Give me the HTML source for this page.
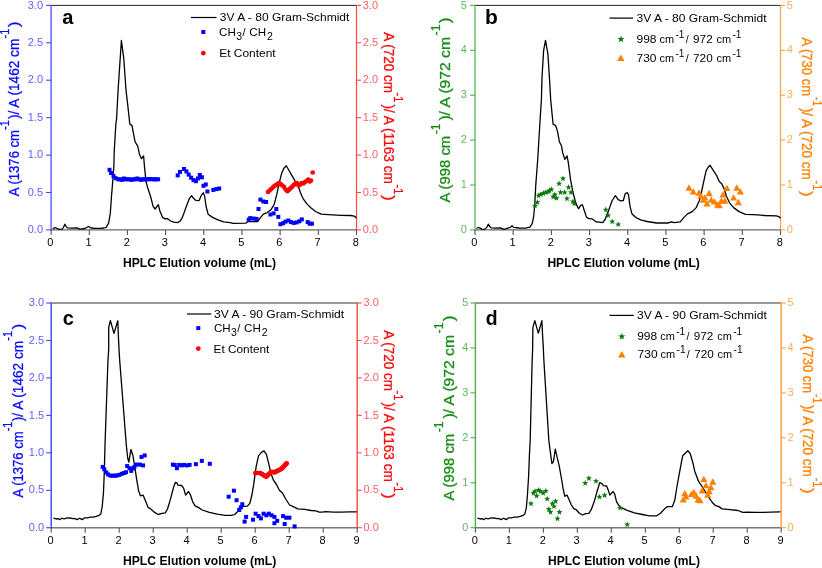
<!DOCTYPE html>
<html><head><meta charset="utf-8"><title>HPLC FTIR figure</title>
<style>html,body{margin:0;padding:0;background:#fff}svg{display:block}</style></head>
<body>
<svg width="822" height="568" viewBox="0 0 822 568" font-family="'Liberation Sans', sans-serif">
<rect width="822" height="568" fill="#fff"/>
<line x1="51.1" y1="5.4" x2="356.5" y2="5.4" stroke="#222" stroke-width="1.0"/>
<line x1="50.6" y1="229.9" x2="357.0" y2="229.9" stroke="#666" stroke-width="1.1"/>
<line x1="51.1" y1="4.9" x2="51.1" y2="230.4" stroke="#4444ff" stroke-width="1.25"/>
<line x1="356.5" y1="4.9" x2="356.5" y2="230.4" stroke="#ff4a4a" stroke-width="1.25"/>
<line x1="51.1" y1="229.9" x2="51.1" y2="234.9" stroke="#555" stroke-width="1.1"/>
<text x="50.4" y="246.20000000000002" font-size="11" fill="#000" text-anchor="middle" font-weight="normal" >0</text>
<line x1="89.3" y1="229.9" x2="89.3" y2="234.9" stroke="#555" stroke-width="1.1"/>
<text x="88.6" y="246.20000000000002" font-size="11" fill="#000" text-anchor="middle" font-weight="normal" >1</text>
<line x1="127.4" y1="229.9" x2="127.4" y2="234.9" stroke="#555" stroke-width="1.1"/>
<text x="126.7" y="246.20000000000002" font-size="11" fill="#000" text-anchor="middle" font-weight="normal" >2</text>
<line x1="165.6" y1="229.9" x2="165.6" y2="234.9" stroke="#555" stroke-width="1.1"/>
<text x="164.9" y="246.20000000000002" font-size="11" fill="#000" text-anchor="middle" font-weight="normal" >3</text>
<line x1="203.8" y1="229.9" x2="203.8" y2="234.9" stroke="#555" stroke-width="1.1"/>
<text x="203.1" y="246.20000000000002" font-size="11" fill="#000" text-anchor="middle" font-weight="normal" >4</text>
<line x1="242.0" y1="229.9" x2="242.0" y2="234.9" stroke="#555" stroke-width="1.1"/>
<text x="241.3" y="246.20000000000002" font-size="11" fill="#000" text-anchor="middle" font-weight="normal" >5</text>
<line x1="280.1" y1="229.9" x2="280.1" y2="234.9" stroke="#555" stroke-width="1.1"/>
<text x="279.4" y="246.20000000000002" font-size="11" fill="#000" text-anchor="middle" font-weight="normal" >6</text>
<line x1="318.3" y1="229.9" x2="318.3" y2="234.9" stroke="#555" stroke-width="1.1"/>
<text x="317.6" y="246.20000000000002" font-size="11" fill="#000" text-anchor="middle" font-weight="normal" >7</text>
<line x1="356.5" y1="229.9" x2="356.5" y2="234.9" stroke="#555" stroke-width="1.1"/>
<text x="355.8" y="246.20000000000002" font-size="11" fill="#000" text-anchor="middle" font-weight="normal" >8</text>
<line x1="46.1" y1="229.9" x2="51.1" y2="229.9" stroke="#4444ff" stroke-width="1.1"/>
<line x1="356.5" y1="229.9" x2="361.0" y2="229.9" stroke="#ff4a4a" stroke-width="1.1"/>
<text x="43.0" y="233.0" font-size="11" fill="#5f5fff" text-anchor="end" font-weight="normal" >0.0</text>
<text x="362.8" y="233.0" font-size="11" fill="#ff6060" text-anchor="start" font-weight="normal" >0.0</text>
<line x1="46.1" y1="192.5" x2="51.1" y2="192.5" stroke="#4444ff" stroke-width="1.1"/>
<line x1="356.5" y1="192.5" x2="361.0" y2="192.5" stroke="#ff4a4a" stroke-width="1.1"/>
<text x="43.0" y="195.6" font-size="11" fill="#5f5fff" text-anchor="end" font-weight="normal" >0.5</text>
<text x="362.8" y="195.6" font-size="11" fill="#ff6060" text-anchor="start" font-weight="normal" >0.5</text>
<line x1="46.1" y1="155.1" x2="51.1" y2="155.1" stroke="#4444ff" stroke-width="1.1"/>
<line x1="356.5" y1="155.1" x2="361.0" y2="155.1" stroke="#ff4a4a" stroke-width="1.1"/>
<text x="43.0" y="158.2" font-size="11" fill="#5f5fff" text-anchor="end" font-weight="normal" >1.0</text>
<text x="362.8" y="158.2" font-size="11" fill="#ff6060" text-anchor="start" font-weight="normal" >1.0</text>
<line x1="46.1" y1="117.7" x2="51.1" y2="117.7" stroke="#4444ff" stroke-width="1.1"/>
<line x1="356.5" y1="117.7" x2="361.0" y2="117.7" stroke="#ff4a4a" stroke-width="1.1"/>
<text x="43.0" y="120.8" font-size="11" fill="#5f5fff" text-anchor="end" font-weight="normal" >1.5</text>
<text x="362.8" y="120.8" font-size="11" fill="#ff6060" text-anchor="start" font-weight="normal" >1.5</text>
<line x1="46.1" y1="80.2" x2="51.1" y2="80.2" stroke="#4444ff" stroke-width="1.1"/>
<line x1="356.5" y1="80.2" x2="361.0" y2="80.2" stroke="#ff4a4a" stroke-width="1.1"/>
<text x="43.0" y="83.3" font-size="11" fill="#5f5fff" text-anchor="end" font-weight="normal" >2.0</text>
<text x="362.8" y="83.3" font-size="11" fill="#ff6060" text-anchor="start" font-weight="normal" >2.0</text>
<line x1="46.1" y1="42.8" x2="51.1" y2="42.8" stroke="#4444ff" stroke-width="1.1"/>
<line x1="356.5" y1="42.8" x2="361.0" y2="42.8" stroke="#ff4a4a" stroke-width="1.1"/>
<text x="43.0" y="45.9" font-size="11" fill="#5f5fff" text-anchor="end" font-weight="normal" >2.5</text>
<text x="362.8" y="45.9" font-size="11" fill="#ff6060" text-anchor="start" font-weight="normal" >2.5</text>
<line x1="46.1" y1="5.4" x2="51.1" y2="5.4" stroke="#4444ff" stroke-width="1.1"/>
<line x1="356.5" y1="5.4" x2="361.0" y2="5.4" stroke="#ff4a4a" stroke-width="1.1"/>
<text x="43.0" y="8.5" font-size="11" fill="#5f5fff" text-anchor="end" font-weight="normal" >3.0</text>
<text x="362.8" y="8.5" font-size="11" fill="#ff6060" text-anchor="start" font-weight="normal" >3.0</text>
<text x="123.0" y="266.9" font-size="12" fill="#000" text-anchor="start" font-weight="bold" textLength="153.0" lengthAdjust="spacingAndGlyphs" >HPLC Elution volume (mL)</text>
<text x="62.2" y="23.9" font-size="20" fill="#000" text-anchor="start" font-weight="bold" >a</text>
<polyline points="53.2,228.6 55.0,227.5 57.0,228.4 59.4,229.3 62.0,229.1 63.4,227.6 64.9,224.2 66.2,226.6 67.4,227.9 71.1,228.2 76.9,227.9 79.9,229.2 85.0,228.5 88.5,226.5 91.0,228.0 95.0,228.3 100.0,228.4 104.0,228.0 106.3,227.3 108.7,222.9 110.3,213.4 111.4,197.5 112.7,181.7 113.9,165.8 114.2,152.0 115.8,125.0 116.6,118.5 118.1,90.0 121.4,40.5 123.8,58.8 126.0,90.0 127.9,106.4 129.8,124.0 132.0,125.6 135.0,141.5 137.8,146.4 139.6,154.8 141.5,158.7 143.6,156.0 144.4,165.8 146.0,181.7 147.5,187.2 150.7,196.8 153.1,206.3 155.1,209.0 158.3,204.7 159.9,211.0 162.6,217.4 165.0,218.9 167.4,218.6 170.5,221.0 173.7,222.1 177.7,222.6 180.0,221.3 182.4,217.4 186.4,206.3 189.5,198.3 191.6,195.6 193.5,198.3 195.9,200.4 199.0,200.7 201.4,195.2 203.3,192.8 204.6,196.0 206.2,207.0 208.1,214.2 212.5,217.4 217.3,219.7 223.6,221.8 230.0,222.6 233.2,223.4 245.8,223.2 248.2,221.3 257.7,221.6 260.1,218.1 263.3,214.2 267.2,212.6 271.2,209.4 274.1,204.7 276.8,194.4 279.1,183.3 281.5,173.8 283.9,168.2 286.3,165.8 288.6,169.8 291.8,175.4 295.0,180.9 298.1,185.7 300.5,192.8 302.9,198.3 306.9,203.9 310.8,207.8 315.6,211.5 321.1,214.2 328.3,214.7 340.9,215.3 350.4,215.5 354.4,216.2 356.3,217.7" fill="none" stroke="#000" stroke-width="1.3" stroke-linejoin="round" stroke-linecap="round"/>
<rect x="107.5" y="167.8" width="4.0" height="4.0" fill="#0000ff"/>
<rect x="109.1" y="171.0" width="4.0" height="4.0" fill="#0000ff"/>
<rect x="111.5" y="174.1" width="4.0" height="4.0" fill="#0000ff"/>
<rect x="113.8" y="176.2" width="4.0" height="4.0" fill="#0000ff"/>
<rect x="116.2" y="177.3" width="4.0" height="4.0" fill="#0000ff"/>
<rect x="118.1" y="177.3" width="4.0" height="4.0" fill="#0000ff"/>
<rect x="120.0" y="177.8" width="4.0" height="4.0" fill="#0000ff"/>
<rect x="121.9" y="176.5" width="4.0" height="4.0" fill="#0000ff"/>
<rect x="123.8" y="177.3" width="4.0" height="4.0" fill="#0000ff"/>
<rect x="125.7" y="177.3" width="4.0" height="4.0" fill="#0000ff"/>
<rect x="127.6" y="177.3" width="4.0" height="4.0" fill="#0000ff"/>
<rect x="129.5" y="177.8" width="4.0" height="4.0" fill="#0000ff"/>
<rect x="131.4" y="177.3" width="4.0" height="4.0" fill="#0000ff"/>
<rect x="133.3" y="177.3" width="4.0" height="4.0" fill="#0000ff"/>
<rect x="135.2" y="176.5" width="4.0" height="4.0" fill="#0000ff"/>
<rect x="137.1" y="177.3" width="4.0" height="4.0" fill="#0000ff"/>
<rect x="139.0" y="177.8" width="4.0" height="4.0" fill="#0000ff"/>
<rect x="140.9" y="177.3" width="4.0" height="4.0" fill="#0000ff"/>
<rect x="142.8" y="177.3" width="4.0" height="4.0" fill="#0000ff"/>
<rect x="144.7" y="177.3" width="4.0" height="4.0" fill="#0000ff"/>
<rect x="146.6" y="177.3" width="4.0" height="4.0" fill="#0000ff"/>
<rect x="148.5" y="177.0" width="4.0" height="4.0" fill="#0000ff"/>
<rect x="150.4" y="177.3" width="4.0" height="4.0" fill="#0000ff"/>
<rect x="152.3" y="177.3" width="4.0" height="4.0" fill="#0000ff"/>
<rect x="154.2" y="177.3" width="4.0" height="4.0" fill="#0000ff"/>
<rect x="156.1" y="177.3" width="4.0" height="4.0" fill="#0000ff"/>
<rect x="175.7" y="173.4" width="4.0" height="4.0" fill="#0000ff"/>
<rect x="178.0" y="169.9" width="4.0" height="4.0" fill="#0000ff"/>
<rect x="182.0" y="167.0" width="4.0" height="4.0" fill="#0000ff"/>
<rect x="184.4" y="169.4" width="4.0" height="4.0" fill="#0000ff"/>
<rect x="186.7" y="172.6" width="4.0" height="4.0" fill="#0000ff"/>
<rect x="189.1" y="175.7" width="4.0" height="4.0" fill="#0000ff"/>
<rect x="191.5" y="178.1" width="4.0" height="4.0" fill="#0000ff"/>
<rect x="193.9" y="179.2" width="4.0" height="4.0" fill="#0000ff"/>
<rect x="195.9" y="176.5" width="4.0" height="4.0" fill="#0000ff"/>
<rect x="197.8" y="173.0" width="4.0" height="4.0" fill="#0000ff"/>
<rect x="199.9" y="175.3" width="4.0" height="4.0" fill="#0000ff"/>
<rect x="201.5" y="183.8" width="4.0" height="4.0" fill="#0000ff"/>
<rect x="203.8" y="182.5" width="4.0" height="4.0" fill="#0000ff"/>
<rect x="205.4" y="189.5" width="4.0" height="4.0" fill="#0000ff"/>
<rect x="211.3" y="187.9" width="4.0" height="4.0" fill="#0000ff"/>
<rect x="214.5" y="187.1" width="4.0" height="4.0" fill="#0000ff"/>
<rect x="217.2" y="186.5" width="4.0" height="4.0" fill="#0000ff"/>
<rect x="246.7" y="217.7" width="4.0" height="4.0" fill="#0000ff"/>
<rect x="248.3" y="216.1" width="4.0" height="4.0" fill="#0000ff"/>
<rect x="251.8" y="216.6" width="4.0" height="4.0" fill="#0000ff"/>
<rect x="254.6" y="216.9" width="4.0" height="4.0" fill="#0000ff"/>
<rect x="256.5" y="207.0" width="4.0" height="4.0" fill="#0000ff"/>
<rect x="258.4" y="197.6" width="4.0" height="4.0" fill="#0000ff"/>
<rect x="261.3" y="199.5" width="4.0" height="4.0" fill="#0000ff"/>
<rect x="264.1" y="200.0" width="4.0" height="4.0" fill="#0000ff"/>
<rect x="268.4" y="212.5" width="4.0" height="4.0" fill="#0000ff"/>
<rect x="271.6" y="211.4" width="4.0" height="4.0" fill="#0000ff"/>
<rect x="274.3" y="207.0" width="4.0" height="4.0" fill="#0000ff"/>
<rect x="276.3" y="214.9" width="4.0" height="4.0" fill="#0000ff"/>
<rect x="278.4" y="222.2" width="4.0" height="4.0" fill="#0000ff"/>
<rect x="281.1" y="221.2" width="4.0" height="4.0" fill="#0000ff"/>
<rect x="283.5" y="219.6" width="4.0" height="4.0" fill="#0000ff"/>
<rect x="286.3" y="218.5" width="4.0" height="4.0" fill="#0000ff"/>
<rect x="289.0" y="220.1" width="4.0" height="4.0" fill="#0000ff"/>
<rect x="291.7" y="220.9" width="4.0" height="4.0" fill="#0000ff"/>
<rect x="294.6" y="220.4" width="4.0" height="4.0" fill="#0000ff"/>
<rect x="297.3" y="219.3" width="4.0" height="4.0" fill="#0000ff"/>
<rect x="299.8" y="217.4" width="4.0" height="4.0" fill="#0000ff"/>
<rect x="305.7" y="220.1" width="4.0" height="4.0" fill="#0000ff"/>
<rect x="307.7" y="221.7" width="4.0" height="4.0" fill="#0000ff"/>
<rect x="309.9" y="221.7" width="4.0" height="4.0" fill="#0000ff"/>
<circle cx="268.0" cy="192.0" r="2.35" fill="#ff0000"/>
<circle cx="269.6" cy="190.5" r="2.35" fill="#ff0000"/>
<circle cx="271.2" cy="189.0" r="2.35" fill="#ff0000"/>
<circle cx="272.8" cy="187.5" r="2.35" fill="#ff0000"/>
<circle cx="274.4" cy="186.0" r="2.35" fill="#ff0000"/>
<circle cx="276.0" cy="185.0" r="2.35" fill="#ff0000"/>
<circle cx="277.5" cy="184.0" r="2.35" fill="#ff0000"/>
<circle cx="279.0" cy="183.0" r="2.35" fill="#ff0000"/>
<circle cx="280.7" cy="184.2" r="2.35" fill="#ff0000"/>
<circle cx="282.3" cy="185.5" r="2.35" fill="#ff0000"/>
<circle cx="284.0" cy="186.8" r="2.35" fill="#ff0000"/>
<circle cx="285.6" cy="189.5" r="2.35" fill="#ff0000"/>
<circle cx="287.4" cy="191.2" r="2.35" fill="#ff0000"/>
<circle cx="289.0" cy="189.7" r="2.35" fill="#ff0000"/>
<circle cx="290.6" cy="188.2" r="2.35" fill="#ff0000"/>
<circle cx="292.2" cy="186.7" r="2.35" fill="#ff0000"/>
<circle cx="293.8" cy="185.0" r="2.35" fill="#ff0000"/>
<circle cx="295.4" cy="183.6" r="2.35" fill="#ff0000"/>
<circle cx="297.0" cy="183.2" r="2.35" fill="#ff0000"/>
<circle cx="298.6" cy="185.5" r="2.35" fill="#ff0000"/>
<circle cx="300.2" cy="184.5" r="2.35" fill="#ff0000"/>
<circle cx="301.8" cy="183.0" r="2.35" fill="#ff0000"/>
<circle cx="303.4" cy="183.5" r="2.35" fill="#ff0000"/>
<circle cx="305.0" cy="182.0" r="2.35" fill="#ff0000"/>
<circle cx="306.6" cy="181.0" r="2.35" fill="#ff0000"/>
<circle cx="308.2" cy="179.5" r="2.35" fill="#ff0000"/>
<circle cx="309.8" cy="181.5" r="2.35" fill="#ff0000"/>
<circle cx="311.0" cy="180.5" r="2.35" fill="#ff0000"/>
<circle cx="312.7" cy="172.5" r="2.35" fill="#ff0000"/>
<line x1="191" y1="17.5" x2="216.5" y2="17.5" stroke="#000" stroke-width="1.2"/>
<text x="219.8" y="21.3" font-size="10.5" fill="#000" text-anchor="start" font-weight="normal" textLength="129.6" lengthAdjust="spacingAndGlyphs" >3V A - 80 Gram-Schmidt</text>
<rect x="201.3" y="30.0" width="4.0" height="4.0" fill="#0000ff"/>
<text y="35.6" font-size="11" fill="#000"><tspan x="219.1" font-size="11.6">CH</tspan><tspan x="236.2" dy="4.3" font-size="10.5">3</tspan><tspan x="242.5" dy="-4.3">/</tspan><tspan x="249.3" font-size="11.6">CH</tspan><tspan x="267.0" dy="4.3" font-size="10.5">2</tspan></text>
<circle cx="203.3" cy="53.2" r="2.35" fill="#ff0000"/>
<text x="219.2" y="57.1" font-size="10.5" fill="#000" text-anchor="start" font-weight="normal" textLength="56.5" lengthAdjust="spacingAndGlyphs" >Et Content</text>
<g transform="translate(383.9,32.3) rotate(90)" fill="#ff0808" stroke="#ff0808" stroke-width="0.28">
<text x="0" y="0" font-size="14.5" textLength="60.6" lengthAdjust="spacingAndGlyphs">A (720 cm</text>
<text x="60.2" y="-9.7" font-size="13" textLength="9.8" lengthAdjust="spacingAndGlyphs">-1</text>
<text x="72.2" y="0" font-size="14.5" textLength="79.4" lengthAdjust="spacingAndGlyphs">)/ A (1163 cm</text>
<text x="152.2" y="-9.7" font-size="13" textLength="9.8" lengthAdjust="spacingAndGlyphs">-1</text>
<text x="162.8" y="0" font-size="14.5" textLength="5.8" lengthAdjust="spacingAndGlyphs">)</text>
</g>
<g transform="translate(19.2,196.2) rotate(-90)" fill="#0808ff" stroke="#0808ff" stroke-width="0.28">
<text x="0" y="0" font-size="14.5" textLength="66.2" lengthAdjust="spacingAndGlyphs">A (1376 cm</text>
<text x="66.2" y="-10.5" font-size="13" textLength="9.8" lengthAdjust="spacingAndGlyphs">-1</text>
<text x="77.2" y="0" font-size="14.5" textLength="80.3" lengthAdjust="spacingAndGlyphs">)/ A (1462 cm</text>
<text x="157.8" y="-10.5" font-size="13" textLength="9.8" lengthAdjust="spacingAndGlyphs">-1</text>
<text x="169.0" y="0" font-size="14.5" textLength="5.8" lengthAdjust="spacingAndGlyphs">)</text>
</g>
<line x1="475.0" y1="5.4" x2="780.5" y2="5.4" stroke="#222" stroke-width="1.0"/>
<line x1="474.5" y1="229.9" x2="781.0" y2="229.9" stroke="#666" stroke-width="1.1"/>
<line x1="475.0" y1="4.9" x2="475.0" y2="230.4" stroke="#4fb04f" stroke-width="1.25"/>
<line x1="780.5" y1="4.9" x2="780.5" y2="230.4" stroke="#ffa040" stroke-width="1.25"/>
<line x1="475.0" y1="229.9" x2="475.0" y2="234.9" stroke="#555" stroke-width="1.1"/>
<text x="474.3" y="246.20000000000002" font-size="11" fill="#000" text-anchor="middle" font-weight="normal" >0</text>
<line x1="513.2" y1="229.9" x2="513.2" y2="234.9" stroke="#555" stroke-width="1.1"/>
<text x="512.5" y="246.20000000000002" font-size="11" fill="#000" text-anchor="middle" font-weight="normal" >1</text>
<line x1="551.4" y1="229.9" x2="551.4" y2="234.9" stroke="#555" stroke-width="1.1"/>
<text x="550.7" y="246.20000000000002" font-size="11" fill="#000" text-anchor="middle" font-weight="normal" >2</text>
<line x1="589.6" y1="229.9" x2="589.6" y2="234.9" stroke="#555" stroke-width="1.1"/>
<text x="588.9" y="246.20000000000002" font-size="11" fill="#000" text-anchor="middle" font-weight="normal" >3</text>
<line x1="627.8" y1="229.9" x2="627.8" y2="234.9" stroke="#555" stroke-width="1.1"/>
<text x="627.0" y="246.20000000000002" font-size="11" fill="#000" text-anchor="middle" font-weight="normal" >4</text>
<line x1="665.9" y1="229.9" x2="665.9" y2="234.9" stroke="#555" stroke-width="1.1"/>
<text x="665.2" y="246.20000000000002" font-size="11" fill="#000" text-anchor="middle" font-weight="normal" >5</text>
<line x1="704.1" y1="229.9" x2="704.1" y2="234.9" stroke="#555" stroke-width="1.1"/>
<text x="703.4" y="246.20000000000002" font-size="11" fill="#000" text-anchor="middle" font-weight="normal" >6</text>
<line x1="742.3" y1="229.9" x2="742.3" y2="234.9" stroke="#555" stroke-width="1.1"/>
<text x="741.6" y="246.20000000000002" font-size="11" fill="#000" text-anchor="middle" font-weight="normal" >7</text>
<line x1="780.5" y1="229.9" x2="780.5" y2="234.9" stroke="#555" stroke-width="1.1"/>
<text x="779.8" y="246.20000000000002" font-size="11" fill="#000" text-anchor="middle" font-weight="normal" >8</text>
<line x1="470.0" y1="229.9" x2="475.0" y2="229.9" stroke="#4fb04f" stroke-width="1.1"/>
<line x1="780.5" y1="229.9" x2="785.0" y2="229.9" stroke="#ffa040" stroke-width="1.1"/>
<text x="466.9" y="233.0" font-size="11" fill="#5eb85e" text-anchor="end" font-weight="normal" >0</text>
<text x="786.8" y="233.0" font-size="11" fill="#ffac58" text-anchor="start" font-weight="normal" >0</text>
<line x1="470.0" y1="185.0" x2="475.0" y2="185.0" stroke="#4fb04f" stroke-width="1.1"/>
<line x1="780.5" y1="185.0" x2="785.0" y2="185.0" stroke="#ffa040" stroke-width="1.1"/>
<text x="466.9" y="188.1" font-size="11" fill="#5eb85e" text-anchor="end" font-weight="normal" >1</text>
<text x="786.8" y="188.1" font-size="11" fill="#ffac58" text-anchor="start" font-weight="normal" >1</text>
<line x1="470.0" y1="140.1" x2="475.0" y2="140.1" stroke="#4fb04f" stroke-width="1.1"/>
<line x1="780.5" y1="140.1" x2="785.0" y2="140.1" stroke="#ffa040" stroke-width="1.1"/>
<text x="466.9" y="143.2" font-size="11" fill="#5eb85e" text-anchor="end" font-weight="normal" >2</text>
<text x="786.8" y="143.2" font-size="11" fill="#ffac58" text-anchor="start" font-weight="normal" >2</text>
<line x1="470.0" y1="95.2" x2="475.0" y2="95.2" stroke="#4fb04f" stroke-width="1.1"/>
<line x1="780.5" y1="95.2" x2="785.0" y2="95.2" stroke="#ffa040" stroke-width="1.1"/>
<text x="466.9" y="98.3" font-size="11" fill="#5eb85e" text-anchor="end" font-weight="normal" >3</text>
<text x="786.8" y="98.3" font-size="11" fill="#ffac58" text-anchor="start" font-weight="normal" >3</text>
<line x1="470.0" y1="50.3" x2="475.0" y2="50.3" stroke="#4fb04f" stroke-width="1.1"/>
<line x1="780.5" y1="50.3" x2="785.0" y2="50.3" stroke="#ffa040" stroke-width="1.1"/>
<text x="466.9" y="53.4" font-size="11" fill="#5eb85e" text-anchor="end" font-weight="normal" >4</text>
<text x="786.8" y="53.4" font-size="11" fill="#ffac58" text-anchor="start" font-weight="normal" >4</text>
<line x1="470.0" y1="5.4" x2="475.0" y2="5.4" stroke="#4fb04f" stroke-width="1.1"/>
<line x1="780.5" y1="5.4" x2="785.0" y2="5.4" stroke="#ffa040" stroke-width="1.1"/>
<text x="466.9" y="8.5" font-size="11" fill="#5eb85e" text-anchor="end" font-weight="normal" >5</text>
<text x="786.8" y="8.5" font-size="11" fill="#ffac58" text-anchor="start" font-weight="normal" >5</text>
<text x="547.4" y="266.9" font-size="12" fill="#000" text-anchor="start" font-weight="bold" textLength="152.5" lengthAdjust="spacingAndGlyphs" >HPLC Elution volume (mL)</text>
<text x="485.1" y="23.9" font-size="21" fill="#000" text-anchor="start" font-weight="bold" >b</text>
<polyline points="477.0,228.2 478.8,227.5 480.5,228.4 482.1,229.3 485.0,229.1 486.8,227.4 488.3,224.2 489.8,226.6 491.2,227.9 495.4,228.2 500.4,227.9 504.0,229.3 507.7,228.2 510.4,227.4 512.0,225.8 513.6,227.4 519.1,228.0 525.5,228.2 529.9,227.1 532.3,223.4 533.7,216.3 534.7,205.2 535.8,184.6 537.4,164.0 538.0,155.0 540.1,119.5 541.4,100.0 542.0,77.5 543.6,50.6 545.5,40.3 547.9,53.8 549.9,85.5 550.7,100.0 553.1,124.3 555.5,125.3 557.5,131.1 559.4,141.8 561.4,145.7 562.7,152.9 564.8,159.3 567.0,155.8 568.3,162.4 570.6,179.9 573.0,192.5 575.9,203.6 578.6,208.7 580.9,205.2 582.5,204.9 584.1,210.0 586.5,217.1 588.9,218.7 592.4,218.9 596.3,221.9 599.5,222.2 602.7,222.7 605.1,219.5 608.2,211.6 612.2,200.5 615.4,195.7 618.2,199.7 620.9,200.8 623.3,200.5 625.2,193.8 627.2,192.5 628.5,194.9 630.1,206.8 632.0,213.9 636.0,217.6 640.7,219.8 647.1,221.5 656.6,223.0 667.7,223.0 671.6,221.9 674.0,222.7 680.3,221.9 683.5,217.9 687.5,213.9 692.2,211.6 696.2,207.6 699.4,200.5 701.7,191.0 704.1,179.9 706.0,171.1 708.1,167.2 710.1,165.3 712.8,169.6 716.8,175.9 719.3,181.5 721.7,183.8 724.1,188.6 726.5,196.5 729.6,202.8 733.6,207.6 739.1,211.6 745.5,214.3 753.4,214.7 764.5,215.5 776.4,215.8 778.7,216.6 780.3,217.9" fill="none" stroke="#000" stroke-width="1.3" stroke-linejoin="round" stroke-linecap="round"/>
<polygon points="535.00,202.80 535.79,204.91 538.04,205.01 536.28,206.42 536.88,208.59 535.00,207.34 533.12,208.59 533.72,206.42 531.96,205.01 534.21,204.91" fill="#0a7a0a"/>
<polygon points="537.40,199.10 538.19,201.21 540.44,201.31 538.68,202.72 539.28,204.89 537.40,203.64 535.52,204.89 536.12,202.72 534.36,201.31 536.61,201.21" fill="#0a7a0a"/>
<polygon points="538.60,192.50 539.39,194.61 541.64,194.71 539.88,196.12 540.48,198.29 538.60,197.04 536.72,198.29 537.32,196.12 535.56,194.71 537.81,194.61" fill="#0a7a0a"/>
<polygon points="540.80,191.20 541.59,193.31 543.84,193.41 542.08,194.82 542.68,196.99 540.80,195.74 538.92,196.99 539.52,194.82 537.76,193.41 540.01,193.31" fill="#0a7a0a"/>
<polygon points="543.30,190.10 544.09,192.21 546.34,192.31 544.58,193.72 545.18,195.89 543.30,194.64 541.42,195.89 542.02,193.72 540.26,192.31 542.51,192.21" fill="#0a7a0a"/>
<polygon points="545.80,189.10 546.59,191.21 548.84,191.31 547.08,192.72 547.68,194.89 545.80,193.64 543.92,194.89 544.52,192.72 542.76,191.31 545.01,191.21" fill="#0a7a0a"/>
<polygon points="548.10,188.70 548.89,190.81 551.14,190.91 549.38,192.32 549.98,194.49 548.10,193.24 546.22,194.49 546.82,192.32 545.06,190.91 547.31,190.81" fill="#0a7a0a"/>
<polygon points="549.50,187.40 550.29,189.51 552.54,189.61 550.78,191.02 551.38,193.19 549.50,191.94 547.62,193.19 548.22,191.02 546.46,189.61 548.71,189.51" fill="#0a7a0a"/>
<polygon points="551.30,186.20 552.09,188.31 554.34,188.41 552.58,189.82 553.18,191.99 551.30,190.74 549.42,191.99 550.02,189.82 548.26,188.41 550.51,188.31" fill="#0a7a0a"/>
<polygon points="553.20,193.60 553.99,195.71 556.24,195.81 554.48,197.22 555.08,199.39 553.20,198.14 551.32,199.39 551.92,197.22 550.16,195.81 552.41,195.71" fill="#0a7a0a"/>
<polygon points="554.80,191.50 555.59,193.61 557.84,193.71 556.08,195.12 556.68,197.29 554.80,196.04 552.92,197.29 553.52,195.12 551.76,193.71 554.01,193.61" fill="#0a7a0a"/>
<polygon points="556.40,194.90 557.19,197.01 559.44,197.11 557.68,198.52 558.28,200.69 556.40,199.44 554.52,200.69 555.12,198.52 553.36,197.11 555.61,197.01" fill="#0a7a0a"/>
<polygon points="559.10,180.50 559.89,182.61 562.14,182.71 560.38,184.12 560.98,186.29 559.10,185.04 557.22,186.29 557.82,184.12 556.06,182.71 558.31,182.61" fill="#0a7a0a"/>
<polygon points="560.60,189.20 561.39,191.31 563.64,191.41 561.88,192.82 562.48,194.99 560.60,193.74 558.72,194.99 559.32,192.82 557.56,191.41 559.81,191.31" fill="#0a7a0a"/>
<polygon points="563.00,175.40 563.79,177.51 566.04,177.61 564.28,179.02 564.88,181.19 563.00,179.94 561.12,181.19 561.72,179.02 559.96,177.61 562.21,177.51" fill="#0a7a0a"/>
<polygon points="564.60,189.30 565.39,191.41 567.64,191.51 565.88,192.92 566.48,195.09 564.60,193.84 562.72,195.09 563.32,192.92 561.56,191.51 563.81,191.41" fill="#0a7a0a"/>
<polygon points="567.00,195.50 567.79,197.61 570.04,197.71 568.28,199.12 568.88,201.29 567.00,200.04 565.12,201.29 565.72,199.12 563.96,197.71 566.21,197.61" fill="#0a7a0a"/>
<polygon points="568.60,184.10 569.39,186.21 571.64,186.31 569.88,187.72 570.48,189.89 568.60,188.64 566.72,189.89 567.32,187.72 565.56,186.31 567.81,186.21" fill="#0a7a0a"/>
<polygon points="571.00,189.20 571.79,191.31 574.04,191.41 572.28,192.82 572.88,194.99 571.00,193.74 569.12,194.99 569.72,192.82 567.96,191.41 570.21,191.31" fill="#0a7a0a"/>
<polygon points="573.00,198.40 573.79,200.51 576.04,200.61 574.28,202.02 574.88,204.19 573.00,202.94 571.12,204.19 571.72,202.02 569.96,200.61 572.21,200.51" fill="#0a7a0a"/>
<polygon points="574.30,200.40 575.09,202.51 577.34,202.61 575.58,204.02 576.18,206.19 574.30,204.94 572.42,206.19 573.02,204.02 571.26,202.61 573.51,202.51" fill="#0a7a0a"/>
<polygon points="605.80,206.60 606.59,208.71 608.84,208.81 607.08,210.22 607.68,212.39 605.80,211.14 603.92,212.39 604.52,210.22 602.76,208.81 605.01,208.71" fill="#0a7a0a"/>
<polygon points="608.20,212.30 608.99,214.41 611.24,214.51 609.48,215.92 610.08,218.09 608.20,216.84 606.32,218.09 606.92,215.92 605.16,214.51 607.41,214.41" fill="#0a7a0a"/>
<polygon points="612.20,218.50 612.99,220.61 615.24,220.71 613.48,222.12 614.08,224.29 612.20,223.04 610.32,224.29 610.92,222.12 609.16,220.71 611.41,220.61" fill="#0a7a0a"/>
<polygon points="618.20,221.30 618.99,223.41 621.24,223.51 619.48,224.92 620.08,227.09 618.20,225.84 616.32,227.09 616.92,224.92 615.16,223.51 617.41,223.41" fill="#0a7a0a"/>
<polygon points="685.40,190.67 692.60,190.67 689.00,184.33" fill="#ff8000"/>
<polygon points="689.70,194.47 696.90,194.47 693.30,188.13" fill="#ff8000"/>
<polygon points="695.40,195.67 702.60,195.67 699.00,189.33" fill="#ff8000"/>
<polygon points="697.30,198.87 704.50,198.87 700.90,192.53" fill="#ff8000"/>
<polygon points="699.70,202.87 706.90,202.87 703.30,196.53" fill="#ff8000"/>
<polygon points="701.30,200.47 708.50,200.47 704.90,194.13" fill="#ff8000"/>
<polygon points="703.40,206.47 710.60,206.47 707.00,200.13" fill="#ff8000"/>
<polygon points="705.60,196.17 712.80,196.17 709.20,189.83" fill="#ff8000"/>
<polygon points="707.60,202.87 714.80,202.87 711.20,196.53" fill="#ff8000"/>
<polygon points="710.80,204.47 718.00,204.47 714.40,198.13" fill="#ff8000"/>
<polygon points="714.00,207.57 721.20,207.57 717.60,201.23" fill="#ff8000"/>
<polygon points="715.70,208.37 722.90,208.37 719.30,202.03" fill="#ff8000"/>
<polygon points="717.80,203.67 725.00,203.67 721.40,197.33" fill="#ff8000"/>
<polygon points="719.40,197.57 726.60,197.57 723.00,191.23" fill="#ff8000"/>
<polygon points="721.30,203.67 728.50,203.67 724.90,197.33" fill="#ff8000"/>
<polygon points="723.30,190.97 730.50,190.97 726.90,184.63" fill="#ff8000"/>
<polygon points="730.00,200.47 737.20,200.47 733.60,194.13" fill="#ff8000"/>
<polygon points="733.20,190.67 740.40,190.67 736.80,184.33" fill="#ff8000"/>
<polygon points="734.70,205.17 741.90,205.17 738.30,198.83" fill="#ff8000"/>
<polygon points="736.80,194.47 744.00,194.47 740.40,188.13" fill="#ff8000"/>
<line x1="609.5" y1="18.1" x2="633.2" y2="18.1" stroke="#000" stroke-width="1.2"/>
<text x="636.5" y="21.6" font-size="10.5" fill="#000" text-anchor="start" font-weight="normal" textLength="130" lengthAdjust="spacingAndGlyphs" >3V A - 80 Gram-Schmidt</text>
<polygon points="621.00,35.60 621.91,38.04 624.52,38.16 622.48,39.78 623.17,42.29 621.00,40.85 618.83,42.29 619.52,39.78 617.48,38.16 620.09,38.04" fill="#0a7a0a"/>
<polygon points="617.10,61.06 624.50,61.06 620.80,54.54" fill="#ff8000"/>
<text y="42.7" font-size="10.5" fill="#000"><tspan x="636.5" textLength="20.0" lengthAdjust="spacingAndGlyphs">998</tspan><tspan x="659.5" textLength="14.6" lengthAdjust="spacingAndGlyphs">cm</tspan><tspan x="675.5" dy="-5.1" font-size="10.5" textLength="9.0" lengthAdjust="spacingAndGlyphs">-1</tspan><tspan x="685.7" dy="5.1">/</tspan><tspan x="693.1" textLength="19.6" lengthAdjust="spacingAndGlyphs">972</tspan><tspan x="716.5" textLength="14.6" lengthAdjust="spacingAndGlyphs">cm</tspan><tspan x="732.5" dy="-5.1" font-size="10.5" textLength="9.0" lengthAdjust="spacingAndGlyphs">-1</tspan></text>
<text y="61.6" font-size="10.5" fill="#000"><tspan x="636.5" textLength="20.0" lengthAdjust="spacingAndGlyphs">730</tspan><tspan x="659.5" textLength="14.6" lengthAdjust="spacingAndGlyphs">cm</tspan><tspan x="675.5" dy="-5.1" font-size="10.5" textLength="9.0" lengthAdjust="spacingAndGlyphs">-1</tspan><tspan x="685.7" dy="5.1">/</tspan><tspan x="693.1" textLength="19.6" lengthAdjust="spacingAndGlyphs">720</tspan><tspan x="716.5" textLength="14.6" lengthAdjust="spacingAndGlyphs">cm</tspan><tspan x="732.5" dy="-5.1" font-size="10.5" textLength="9.0" lengthAdjust="spacingAndGlyphs">-1</tspan></text>
<g transform="translate(802,37.4) rotate(90)" fill="#ff8000" stroke="#ff8000" stroke-width="0.28">
<text x="0" y="0" font-size="14.5" textLength="58.6" lengthAdjust="spacingAndGlyphs">A (730 cm</text>
<text x="59.6" y="-10.5" font-size="13" textLength="9.2" lengthAdjust="spacingAndGlyphs">-1</text>
<text x="70.5" y="0" font-size="14.5" textLength="71.7" lengthAdjust="spacingAndGlyphs">)/ A (720 cm</text>
<text x="143.2" y="-10.5" font-size="13" textLength="9.8" lengthAdjust="spacingAndGlyphs">-1</text>
<text x="153.6" y="0" font-size="14.5" textLength="5.6" lengthAdjust="spacingAndGlyphs">)</text>
</g>
<g transform="translate(450,202.6) rotate(-90)" fill="#158c15" stroke="#158c15" stroke-width="0.28">
<text x="0" y="0" font-size="14.5" textLength="66.8" lengthAdjust="spacingAndGlyphs">A (998 cm</text>
<text x="68.4" y="-10.3" font-size="13" textLength="10.8" lengthAdjust="spacingAndGlyphs">-1</text>
<text x="82.0" y="0" font-size="14.5" textLength="83.6" lengthAdjust="spacingAndGlyphs">)/ A (972 cm</text>
<text x="167.2" y="-10.3" font-size="13" textLength="11.0" lengthAdjust="spacingAndGlyphs">-1</text>
<text x="179.3" y="0" font-size="14.5" textLength="6.0" lengthAdjust="spacingAndGlyphs">)</text>
</g>
<line x1="51.2" y1="303.0" x2="357.2" y2="303.0" stroke="#777" stroke-width="1.3"/>
<line x1="50.7" y1="527.7" x2="357.7" y2="527.7" stroke="#777" stroke-width="1.5"/>
<line x1="51.2" y1="302.5" x2="51.2" y2="528.2" stroke="#4444ff" stroke-width="1.45"/>
<line x1="357.2" y1="302.5" x2="357.2" y2="528.2" stroke="#ff4a4a" stroke-width="1.45"/>
<line x1="51.2" y1="527.7" x2="51.2" y2="532.7" stroke="#555" stroke-width="1.1"/>
<text x="50.5" y="544.0" font-size="11" fill="#000" text-anchor="middle" font-weight="normal" >0</text>
<line x1="85.2" y1="527.7" x2="85.2" y2="532.7" stroke="#555" stroke-width="1.1"/>
<text x="84.5" y="544.0" font-size="11" fill="#000" text-anchor="middle" font-weight="normal" >1</text>
<line x1="119.2" y1="527.7" x2="119.2" y2="532.7" stroke="#555" stroke-width="1.1"/>
<text x="118.5" y="544.0" font-size="11" fill="#000" text-anchor="middle" font-weight="normal" >2</text>
<line x1="153.2" y1="527.7" x2="153.2" y2="532.7" stroke="#555" stroke-width="1.1"/>
<text x="152.5" y="544.0" font-size="11" fill="#000" text-anchor="middle" font-weight="normal" >3</text>
<line x1="187.2" y1="527.7" x2="187.2" y2="532.7" stroke="#555" stroke-width="1.1"/>
<text x="186.5" y="544.0" font-size="11" fill="#000" text-anchor="middle" font-weight="normal" >4</text>
<line x1="221.2" y1="527.7" x2="221.2" y2="532.7" stroke="#555" stroke-width="1.1"/>
<text x="220.5" y="544.0" font-size="11" fill="#000" text-anchor="middle" font-weight="normal" >5</text>
<line x1="255.2" y1="527.7" x2="255.2" y2="532.7" stroke="#555" stroke-width="1.1"/>
<text x="254.5" y="544.0" font-size="11" fill="#000" text-anchor="middle" font-weight="normal" >6</text>
<line x1="289.2" y1="527.7" x2="289.2" y2="532.7" stroke="#555" stroke-width="1.1"/>
<text x="288.5" y="544.0" font-size="11" fill="#000" text-anchor="middle" font-weight="normal" >7</text>
<line x1="323.2" y1="527.7" x2="323.2" y2="532.7" stroke="#555" stroke-width="1.1"/>
<text x="322.5" y="544.0" font-size="11" fill="#000" text-anchor="middle" font-weight="normal" >8</text>
<line x1="357.2" y1="527.7" x2="357.2" y2="532.7" stroke="#555" stroke-width="1.1"/>
<text x="356.5" y="544.0" font-size="11" fill="#000" text-anchor="middle" font-weight="normal" >9</text>
<line x1="46.2" y1="527.7" x2="51.2" y2="527.7" stroke="#4444ff" stroke-width="1.1"/>
<line x1="357.2" y1="527.7" x2="361.7" y2="527.7" stroke="#ff4a4a" stroke-width="1.1"/>
<text x="44.1" y="530.8" font-size="11" fill="#5f5fff" text-anchor="end" font-weight="normal" >0.0</text>
<text x="363.5" y="530.8" font-size="11" fill="#ff6060" text-anchor="start" font-weight="normal" >0.0</text>
<line x1="46.2" y1="490.3" x2="51.2" y2="490.3" stroke="#4444ff" stroke-width="1.1"/>
<line x1="357.2" y1="490.3" x2="361.7" y2="490.3" stroke="#ff4a4a" stroke-width="1.1"/>
<text x="44.1" y="493.4" font-size="11" fill="#5f5fff" text-anchor="end" font-weight="normal" >0.5</text>
<text x="363.5" y="493.4" font-size="11" fill="#ff6060" text-anchor="start" font-weight="normal" >0.5</text>
<line x1="46.2" y1="452.8" x2="51.2" y2="452.8" stroke="#4444ff" stroke-width="1.1"/>
<line x1="357.2" y1="452.8" x2="361.7" y2="452.8" stroke="#ff4a4a" stroke-width="1.1"/>
<text x="44.1" y="455.9" font-size="11" fill="#5f5fff" text-anchor="end" font-weight="normal" >1.0</text>
<text x="363.5" y="455.9" font-size="11" fill="#ff6060" text-anchor="start" font-weight="normal" >1.0</text>
<line x1="46.2" y1="415.4" x2="51.2" y2="415.4" stroke="#4444ff" stroke-width="1.1"/>
<line x1="357.2" y1="415.4" x2="361.7" y2="415.4" stroke="#ff4a4a" stroke-width="1.1"/>
<text x="44.1" y="418.5" font-size="11" fill="#5f5fff" text-anchor="end" font-weight="normal" >1.5</text>
<text x="363.5" y="418.5" font-size="11" fill="#ff6060" text-anchor="start" font-weight="normal" >1.5</text>
<line x1="46.2" y1="377.9" x2="51.2" y2="377.9" stroke="#4444ff" stroke-width="1.1"/>
<line x1="357.2" y1="377.9" x2="361.7" y2="377.9" stroke="#ff4a4a" stroke-width="1.1"/>
<text x="44.1" y="381.0" font-size="11" fill="#5f5fff" text-anchor="end" font-weight="normal" >2.0</text>
<text x="363.5" y="381.0" font-size="11" fill="#ff6060" text-anchor="start" font-weight="normal" >2.0</text>
<line x1="46.2" y1="340.5" x2="51.2" y2="340.5" stroke="#4444ff" stroke-width="1.1"/>
<line x1="357.2" y1="340.5" x2="361.7" y2="340.5" stroke="#ff4a4a" stroke-width="1.1"/>
<text x="44.1" y="343.6" font-size="11" fill="#5f5fff" text-anchor="end" font-weight="normal" >2.5</text>
<text x="363.5" y="343.6" font-size="11" fill="#ff6060" text-anchor="start" font-weight="normal" >2.5</text>
<line x1="46.2" y1="303.0" x2="51.2" y2="303.0" stroke="#4444ff" stroke-width="1.1"/>
<line x1="357.2" y1="303.0" x2="361.7" y2="303.0" stroke="#ff4a4a" stroke-width="1.1"/>
<text x="44.1" y="306.1" font-size="11" fill="#5f5fff" text-anchor="end" font-weight="normal" >3.0</text>
<text x="363.5" y="306.1" font-size="11" fill="#ff6060" text-anchor="start" font-weight="normal" >3.0</text>
<text x="123.0" y="564.7" font-size="12" fill="#000" text-anchor="start" font-weight="bold" textLength="153.2" lengthAdjust="spacingAndGlyphs" >HPLC Elution volume (mL)</text>
<text x="62.8" y="324.6" font-size="20" fill="#000" text-anchor="start" font-weight="bold" >c</text>
<polyline points="53.8,518.2 56.0,519.0 58.2,518.6 59.7,519.7 61.9,518.2 64.0,519.0 66.2,518.2 69.9,517.8 72.8,518.7 75.0,518.6 77.2,519.7 79.4,518.2 82.3,519.7 84.5,517.8 87.4,517.8 90.3,517.2 93.3,517.2 96.2,516.4 99.1,515.3 100.8,513.9 102.2,506.6 103.5,492.3 104.3,471.7 105.0,445.0 107.9,362.0 108.7,349.3 108.7,327.4 110.4,320.6 114.0,333.4 117.8,320.8 118.3,334.0 118.9,347.1 119.6,359.1 126.3,445.0 127.7,458.2 128.8,462.2 129.9,455.8 130.9,449.5 132.8,455.0 134.8,466.9 136.7,479.6 138.6,490.7 140.4,495.8 143.1,495.1 145.5,501.0 148.2,507.4 151.0,509.3 154.2,512.1 158.1,514.5 162.1,513.4 165.3,512.9 167.5,509.0 170.6,498.6 173.5,487.5 175.3,482.5 176.9,482.8 178.0,485.2 181.6,485.5 183.7,488.3 185.6,495.1 188.5,491.5 190.4,494.7 192.7,501.8 195.1,505.8 198.3,507.4 202.2,510.0 209.4,512.4 217.3,514.2 225.2,515.4 231.6,515.4 234.7,514.5 238.7,510.5 242.7,506.6 247.4,506.2 249.8,503.4 251.8,495.5 253.7,484.4 256.1,466.9 258.5,455.8 261.4,452.4 264.0,450.8 266.4,454.3 268.8,463.8 270.9,473.3 273.6,480.4 276.5,484.5 279.4,490.3 282.5,493.1 286.0,499.5 289.6,505.0 293.3,506.6 297.7,508.9 304.9,509.3 311.2,510.5 316.0,510.8 319.1,512.1 322.3,512.1 325.5,511.6 333.4,512.1 341.3,512.1 349.2,511.8 356.4,511.8" fill="none" stroke="#000" stroke-width="1.3" stroke-linejoin="round" stroke-linecap="round"/>
<rect x="100.7" y="464.9" width="4.0" height="4.0" fill="#0000ff"/>
<rect x="102.3" y="467.3" width="4.0" height="4.0" fill="#0000ff"/>
<rect x="104.3" y="470.5" width="4.0" height="4.0" fill="#0000ff"/>
<rect x="106.2" y="472.5" width="4.0" height="4.0" fill="#0000ff"/>
<rect x="108.6" y="473.7" width="4.0" height="4.0" fill="#0000ff"/>
<rect x="111.0" y="473.7" width="4.0" height="4.0" fill="#0000ff"/>
<rect x="113.0" y="473.7" width="4.0" height="4.0" fill="#0000ff"/>
<rect x="115.0" y="473.5" width="4.0" height="4.0" fill="#0000ff"/>
<rect x="117.3" y="472.9" width="4.0" height="4.0" fill="#0000ff"/>
<rect x="119.7" y="471.8" width="4.0" height="4.0" fill="#0000ff"/>
<rect x="122.1" y="471.0" width="4.0" height="4.0" fill="#0000ff"/>
<rect x="124.0" y="470.2" width="4.0" height="4.0" fill="#0000ff"/>
<rect x="125.2" y="464.1" width="4.0" height="4.0" fill="#0000ff"/>
<rect x="127.6" y="466.2" width="4.0" height="4.0" fill="#0000ff"/>
<rect x="129.2" y="468.9" width="4.0" height="4.0" fill="#0000ff"/>
<rect x="130.8" y="466.5" width="4.0" height="4.0" fill="#0000ff"/>
<rect x="132.4" y="464.9" width="4.0" height="4.0" fill="#0000ff"/>
<rect x="134.7" y="462.6" width="4.0" height="4.0" fill="#0000ff"/>
<rect x="137.9" y="462.6" width="4.0" height="4.0" fill="#0000ff"/>
<rect x="141.1" y="463.4" width="4.0" height="4.0" fill="#0000ff"/>
<rect x="139.5" y="455.0" width="4.0" height="4.0" fill="#0000ff"/>
<rect x="142.7" y="453.4" width="4.0" height="4.0" fill="#0000ff"/>
<rect x="170.9" y="462.6" width="4.0" height="4.0" fill="#0000ff"/>
<rect x="172.8" y="463.0" width="4.0" height="4.0" fill="#0000ff"/>
<rect x="174.9" y="466.2" width="4.0" height="4.0" fill="#0000ff"/>
<rect x="177.3" y="462.9" width="4.0" height="4.0" fill="#0000ff"/>
<rect x="179.6" y="463.4" width="4.0" height="4.0" fill="#0000ff"/>
<rect x="182.0" y="462.9" width="4.0" height="4.0" fill="#0000ff"/>
<rect x="184.9" y="463.4" width="4.0" height="4.0" fill="#0000ff"/>
<rect x="187.6" y="462.9" width="4.0" height="4.0" fill="#0000ff"/>
<rect x="193.9" y="462.2" width="4.0" height="4.0" fill="#0000ff"/>
<rect x="199.8" y="458.9" width="4.0" height="4.0" fill="#0000ff"/>
<rect x="207.8" y="461.8" width="4.0" height="4.0" fill="#0000ff"/>
<rect x="231.9" y="488.7" width="4.0" height="4.0" fill="#0000ff"/>
<rect x="226.7" y="494.7" width="4.0" height="4.0" fill="#0000ff"/>
<rect x="234.6" y="498.2" width="4.0" height="4.0" fill="#0000ff"/>
<rect x="240.3" y="502.2" width="4.0" height="4.0" fill="#0000ff"/>
<rect x="238.8" y="505.4" width="4.0" height="4.0" fill="#0000ff"/>
<rect x="237.2" y="508.0" width="4.0" height="4.0" fill="#0000ff"/>
<rect x="244.1" y="514.9" width="4.0" height="4.0" fill="#0000ff"/>
<rect x="242.6" y="519.6" width="4.0" height="4.0" fill="#0000ff"/>
<rect x="251.0" y="517.7" width="4.0" height="4.0" fill="#0000ff"/>
<rect x="253.6" y="511.7" width="4.0" height="4.0" fill="#0000ff"/>
<rect x="256.5" y="514.1" width="4.0" height="4.0" fill="#0000ff"/>
<rect x="258.9" y="516.4" width="4.0" height="4.0" fill="#0000ff"/>
<rect x="261.6" y="511.7" width="4.0" height="4.0" fill="#0000ff"/>
<rect x="264.4" y="513.3" width="4.0" height="4.0" fill="#0000ff"/>
<rect x="266.8" y="511.7" width="4.0" height="4.0" fill="#0000ff"/>
<rect x="269.5" y="513.3" width="4.0" height="4.0" fill="#0000ff"/>
<rect x="272.4" y="514.9" width="4.0" height="4.0" fill="#0000ff"/>
<rect x="272.4" y="521.2" width="4.0" height="4.0" fill="#0000ff"/>
<rect x="275.2" y="518.8" width="4.0" height="4.0" fill="#0000ff"/>
<rect x="281.1" y="514.1" width="4.0" height="4.0" fill="#0000ff"/>
<rect x="284.2" y="515.7" width="4.0" height="4.0" fill="#0000ff"/>
<rect x="287.4" y="515.7" width="4.0" height="4.0" fill="#0000ff"/>
<rect x="282.7" y="522.0" width="4.0" height="4.0" fill="#0000ff"/>
<rect x="292.6" y="524.4" width="4.0" height="4.0" fill="#0000ff"/>
<circle cx="255.3" cy="473.0" r="2.35" fill="#ff0000"/>
<circle cx="256.5" cy="473.0" r="2.35" fill="#ff0000"/>
<circle cx="257.7" cy="473.0" r="2.35" fill="#ff0000"/>
<circle cx="258.9" cy="473.0" r="2.35" fill="#ff0000"/>
<circle cx="260.1" cy="473.0" r="2.35" fill="#ff0000"/>
<circle cx="261.1" cy="473.6" r="2.35" fill="#ff0000"/>
<circle cx="262.2" cy="474.2" r="2.35" fill="#ff0000"/>
<circle cx="263.2" cy="474.8" r="2.35" fill="#ff0000"/>
<circle cx="264.2" cy="475.5" r="2.35" fill="#ff0000"/>
<circle cx="265.2" cy="476.2" r="2.35" fill="#ff0000"/>
<circle cx="266.2" cy="476.7" r="2.35" fill="#ff0000"/>
<circle cx="267.0" cy="475.9" r="2.35" fill="#ff0000"/>
<circle cx="267.9" cy="475.0" r="2.35" fill="#ff0000"/>
<circle cx="268.7" cy="474.2" r="2.35" fill="#ff0000"/>
<circle cx="269.6" cy="473.4" r="2.35" fill="#ff0000"/>
<circle cx="270.5" cy="472.6" r="2.35" fill="#ff0000"/>
<circle cx="271.4" cy="471.8" r="2.35" fill="#ff0000"/>
<circle cx="272.5" cy="472.0" r="2.35" fill="#ff0000"/>
<circle cx="273.7" cy="472.3" r="2.35" fill="#ff0000"/>
<circle cx="274.8" cy="472.3" r="2.35" fill="#ff0000"/>
<circle cx="275.9" cy="471.7" r="2.35" fill="#ff0000"/>
<circle cx="276.9" cy="471.2" r="2.35" fill="#ff0000"/>
<circle cx="278.0" cy="470.6" r="2.35" fill="#ff0000"/>
<circle cx="279.1" cy="470.1" r="2.35" fill="#ff0000"/>
<circle cx="280.2" cy="469.6" r="2.35" fill="#ff0000"/>
<circle cx="281.2" cy="468.9" r="2.35" fill="#ff0000"/>
<circle cx="282.1" cy="468.2" r="2.35" fill="#ff0000"/>
<circle cx="283.0" cy="467.4" r="2.35" fill="#ff0000"/>
<circle cx="283.8" cy="466.5" r="2.35" fill="#ff0000"/>
<circle cx="284.5" cy="465.6" r="2.35" fill="#ff0000"/>
<circle cx="285.3" cy="464.7" r="2.35" fill="#ff0000"/>
<circle cx="286.2" cy="463.8" r="2.35" fill="#ff0000"/>
<circle cx="286.7" cy="463.3" r="2.35" fill="#ff0000"/>
<line x1="187" y1="314" x2="211.3" y2="314" stroke="#000" stroke-width="1.2"/>
<text x="214.0" y="317.8" font-size="10.5" fill="#000" text-anchor="start" font-weight="normal" textLength="130.2" lengthAdjust="spacingAndGlyphs" >3V A - 90 Gram-Schmidt</text>
<rect x="196.3" y="326.1" width="4.0" height="4.0" fill="#0000ff"/>
<text y="331.8" font-size="11" fill="#000"><tspan x="213.9" font-size="11.6">CH</tspan><tspan x="231.0" dy="4.3" font-size="10.5">3</tspan><tspan x="237.3" dy="-4.3">/</tspan><tspan x="244.1" font-size="11.6">CH</tspan><tspan x="261.8" dy="4.3" font-size="10.5">2</tspan></text>
<circle cx="198.3" cy="348.6" r="2.35" fill="#ff0000"/>
<text x="213.6" y="352.9" font-size="10.5" fill="#000" text-anchor="start" font-weight="normal" textLength="55.8" lengthAdjust="spacingAndGlyphs" >Et Content</text>
<g transform="translate(384.0,330.3) rotate(90)" fill="#ff0808" stroke="#ff0808" stroke-width="0.28">
<text x="0" y="0" font-size="14.5" textLength="60.6" lengthAdjust="spacingAndGlyphs">A (720 cm</text>
<text x="60.2" y="-9.7" font-size="13" textLength="9.8" lengthAdjust="spacingAndGlyphs">-1</text>
<text x="72.2" y="0" font-size="14.5" textLength="79.4" lengthAdjust="spacingAndGlyphs">)/ A (1163 cm</text>
<text x="152.2" y="-9.7" font-size="13" textLength="9.8" lengthAdjust="spacingAndGlyphs">-1</text>
<text x="162.8" y="0" font-size="14.5" textLength="5.8" lengthAdjust="spacingAndGlyphs">)</text>
</g>
<g transform="translate(22.7,497.5) rotate(-90)" fill="#0808ff" stroke="#0808ff" stroke-width="0.28">
<text x="0" y="0" font-size="14.5" textLength="66.2" lengthAdjust="spacingAndGlyphs">A (1376 cm</text>
<text x="66.2" y="-10.5" font-size="13" textLength="9.8" lengthAdjust="spacingAndGlyphs">-1</text>
<text x="76.3" y="0" font-size="14.5" textLength="80.3" lengthAdjust="spacingAndGlyphs">)/ A (1462 cm</text>
<text x="156.8" y="-10.5" font-size="13" textLength="9.8" lengthAdjust="spacingAndGlyphs">-1</text>
<text x="168.0" y="0" font-size="14.5" textLength="5.8" lengthAdjust="spacingAndGlyphs">)</text>
</g>
<line x1="475.4" y1="303.0" x2="781.2" y2="303.0" stroke="#777" stroke-width="1.3"/>
<line x1="474.9" y1="527.7" x2="781.7" y2="527.7" stroke="#777" stroke-width="1.5"/>
<line x1="475.4" y1="302.5" x2="475.4" y2="528.2" stroke="#4fb04f" stroke-width="1.45"/>
<line x1="781.2" y1="302.5" x2="781.2" y2="528.2" stroke="#ffa040" stroke-width="1.45"/>
<line x1="475.4" y1="527.7" x2="475.4" y2="532.7" stroke="#555" stroke-width="1.1"/>
<text x="474.7" y="544.0" font-size="11" fill="#000" text-anchor="middle" font-weight="normal" >0</text>
<line x1="509.4" y1="527.7" x2="509.4" y2="532.7" stroke="#555" stroke-width="1.1"/>
<text x="508.7" y="544.0" font-size="11" fill="#000" text-anchor="middle" font-weight="normal" >1</text>
<line x1="543.4" y1="527.7" x2="543.4" y2="532.7" stroke="#555" stroke-width="1.1"/>
<text x="542.7" y="544.0" font-size="11" fill="#000" text-anchor="middle" font-weight="normal" >2</text>
<line x1="577.3" y1="527.7" x2="577.3" y2="532.7" stroke="#555" stroke-width="1.1"/>
<text x="576.6" y="544.0" font-size="11" fill="#000" text-anchor="middle" font-weight="normal" >3</text>
<line x1="611.3" y1="527.7" x2="611.3" y2="532.7" stroke="#555" stroke-width="1.1"/>
<text x="610.6" y="544.0" font-size="11" fill="#000" text-anchor="middle" font-weight="normal" >4</text>
<line x1="645.3" y1="527.7" x2="645.3" y2="532.7" stroke="#555" stroke-width="1.1"/>
<text x="644.6" y="544.0" font-size="11" fill="#000" text-anchor="middle" font-weight="normal" >5</text>
<line x1="679.3" y1="527.7" x2="679.3" y2="532.7" stroke="#555" stroke-width="1.1"/>
<text x="678.6" y="544.0" font-size="11" fill="#000" text-anchor="middle" font-weight="normal" >6</text>
<line x1="713.2" y1="527.7" x2="713.2" y2="532.7" stroke="#555" stroke-width="1.1"/>
<text x="712.5" y="544.0" font-size="11" fill="#000" text-anchor="middle" font-weight="normal" >7</text>
<line x1="747.2" y1="527.7" x2="747.2" y2="532.7" stroke="#555" stroke-width="1.1"/>
<text x="746.5" y="544.0" font-size="11" fill="#000" text-anchor="middle" font-weight="normal" >8</text>
<line x1="781.2" y1="527.7" x2="781.2" y2="532.7" stroke="#555" stroke-width="1.1"/>
<text x="780.5" y="544.0" font-size="11" fill="#000" text-anchor="middle" font-weight="normal" >9</text>
<line x1="470.4" y1="527.7" x2="475.4" y2="527.7" stroke="#4fb04f" stroke-width="1.1"/>
<line x1="781.2" y1="527.7" x2="785.7" y2="527.7" stroke="#ffa040" stroke-width="1.1"/>
<text x="468.29999999999995" y="530.8" font-size="11" fill="#5eb85e" text-anchor="end" font-weight="normal" >0</text>
<text x="787.5" y="530.8" font-size="11" fill="#ffac58" text-anchor="start" font-weight="normal" >0</text>
<line x1="470.4" y1="482.8" x2="475.4" y2="482.8" stroke="#4fb04f" stroke-width="1.1"/>
<line x1="781.2" y1="482.8" x2="785.7" y2="482.8" stroke="#ffa040" stroke-width="1.1"/>
<text x="468.29999999999995" y="485.9" font-size="11" fill="#5eb85e" text-anchor="end" font-weight="normal" >1</text>
<text x="787.5" y="485.9" font-size="11" fill="#ffac58" text-anchor="start" font-weight="normal" >1</text>
<line x1="470.4" y1="437.8" x2="475.4" y2="437.8" stroke="#4fb04f" stroke-width="1.1"/>
<line x1="781.2" y1="437.8" x2="785.7" y2="437.8" stroke="#ffa040" stroke-width="1.1"/>
<text x="468.29999999999995" y="440.9" font-size="11" fill="#5eb85e" text-anchor="end" font-weight="normal" >2</text>
<text x="787.5" y="440.9" font-size="11" fill="#ffac58" text-anchor="start" font-weight="normal" >2</text>
<line x1="470.4" y1="392.9" x2="475.4" y2="392.9" stroke="#4fb04f" stroke-width="1.1"/>
<line x1="781.2" y1="392.9" x2="785.7" y2="392.9" stroke="#ffa040" stroke-width="1.1"/>
<text x="468.29999999999995" y="396.0" font-size="11" fill="#5eb85e" text-anchor="end" font-weight="normal" >3</text>
<text x="787.5" y="396.0" font-size="11" fill="#ffac58" text-anchor="start" font-weight="normal" >3</text>
<line x1="470.4" y1="347.9" x2="475.4" y2="347.9" stroke="#4fb04f" stroke-width="1.1"/>
<line x1="781.2" y1="347.9" x2="785.7" y2="347.9" stroke="#ffa040" stroke-width="1.1"/>
<text x="468.29999999999995" y="351.0" font-size="11" fill="#5eb85e" text-anchor="end" font-weight="normal" >4</text>
<text x="787.5" y="351.0" font-size="11" fill="#ffac58" text-anchor="start" font-weight="normal" >4</text>
<line x1="470.4" y1="303.0" x2="475.4" y2="303.0" stroke="#4fb04f" stroke-width="1.1"/>
<line x1="781.2" y1="303.0" x2="785.7" y2="303.0" stroke="#ffa040" stroke-width="1.1"/>
<text x="468.29999999999995" y="306.1" font-size="11" fill="#5eb85e" text-anchor="end" font-weight="normal" >5</text>
<text x="787.5" y="306.1" font-size="11" fill="#ffac58" text-anchor="start" font-weight="normal" >5</text>
<text x="548.0" y="564.7" font-size="12" fill="#000" text-anchor="start" font-weight="bold" textLength="151.9" lengthAdjust="spacingAndGlyphs" >HPLC Elution volume (mL)</text>
<text x="485.7" y="324.7" font-size="19.4" fill="#000" text-anchor="start" font-weight="bold" >d</text>
<polyline points="477.8,518.2 480.0,519.0 482.2,518.6 483.7,519.7 485.9,518.2 488.0,519.0 490.2,518.2 493.9,517.8 496.8,518.7 499.0,518.6 501.2,519.7 503.4,518.2 506.3,519.7 508.5,517.8 511.4,517.8 514.3,517.2 517.3,517.2 520.2,516.4 523.1,515.3 524.8,513.9 526.3,508.1 527.4,495.5 528.6,476.5 529.4,455.8 530.2,440.0 532.1,362.0 532.6,350.4 532.9,327.4 534.8,320.6 538.3,333.2 541.9,320.6 542.5,334.0 543.3,347.1 543.8,359.1 548.8,440.0 550.0,449.5 551.9,463.5 553.5,461.4 555.3,449.2 556.8,455.8 559.1,465.4 561.1,476.5 563.2,489.1 564.8,496.3 567.0,495.1 569.0,499.4 571.4,505.0 573.8,508.6 576.2,509.7 579.4,513.2 582.5,515.0 585.7,513.7 588.9,513.4 591.2,509.7 594.4,501.0 596.8,492.3 599.8,482.5 601.9,483.6 603.5,485.6 606.6,486.0 608.2,489.9 609.8,495.1 613.0,491.5 614.6,493.9 616.6,501.8 619.3,506.2 622.5,508.1 626.5,510.2 634.4,512.9 642.3,514.5 649.4,515.8 656.6,515.8 660.5,513.2 664.5,508.9 667.3,506.6 672.4,506.6 674.8,500.2 676.8,487.5 679.1,474.9 681.1,463.8 682.7,455.8 685.1,453.5 687.8,450.8 690.2,453.5 692.7,462.2 694.9,471.7 698.5,481.2 702.0,486.5 705.7,492.3 709.7,498.6 712.0,502.0 715.0,505.3 718.9,506.6 722.1,508.9 730.0,509.7 738.0,510.5 742.7,512.4 747.5,512.1 755.4,512.4 763.3,512.4 771.2,512.1 780.0,511.8" fill="none" stroke="#000" stroke-width="1.3" stroke-linejoin="round" stroke-linecap="round"/>
<polygon points="531.00,500.50 531.79,502.61 534.04,502.71 532.28,504.12 532.88,506.29 531.00,505.04 529.12,506.29 529.72,504.12 527.96,502.71 530.21,502.61" fill="#0a7a0a"/>
<polygon points="533.40,489.90 534.19,492.01 536.44,492.11 534.68,493.52 535.28,495.69 533.40,494.44 531.52,495.69 532.12,493.52 530.36,492.11 532.61,492.01" fill="#0a7a0a"/>
<polygon points="535.00,488.10 535.79,490.21 538.04,490.31 536.28,491.72 536.88,493.89 535.00,492.64 533.12,493.89 533.72,491.72 531.96,490.31 534.21,490.21" fill="#0a7a0a"/>
<polygon points="536.60,492.60 537.39,494.71 539.64,494.81 537.88,496.22 538.48,498.39 536.60,497.14 534.72,498.39 535.32,496.22 533.56,494.81 535.81,494.71" fill="#0a7a0a"/>
<polygon points="538.50,487.00 539.29,489.11 541.54,489.21 539.78,490.62 540.38,492.79 538.50,491.54 536.62,492.79 537.22,490.62 535.46,489.21 537.71,489.11" fill="#0a7a0a"/>
<polygon points="540.50,488.10 541.29,490.21 543.54,490.31 541.78,491.72 542.38,493.89 540.50,492.64 538.62,493.89 539.22,491.72 537.46,490.31 539.71,490.21" fill="#0a7a0a"/>
<polygon points="543.20,489.90 543.99,492.01 546.24,492.11 544.48,493.52 545.08,495.69 543.20,494.44 541.32,495.69 541.92,493.52 540.16,492.11 542.41,492.01" fill="#0a7a0a"/>
<polygon points="545.80,487.80 546.59,489.91 548.84,490.01 547.08,491.42 547.68,493.59 545.80,492.34 543.92,493.59 544.52,491.42 542.76,490.01 545.01,489.91" fill="#0a7a0a"/>
<polygon points="547.20,495.70 547.99,497.81 550.24,497.91 548.48,499.32 549.08,501.49 547.20,500.24 545.32,501.49 545.92,499.32 544.16,497.91 546.41,497.81" fill="#0a7a0a"/>
<polygon points="555.60,498.10 556.39,500.21 558.64,500.31 556.88,501.72 557.48,503.89 555.60,502.64 553.72,503.89 554.32,501.72 552.56,500.31 554.81,500.21" fill="#0a7a0a"/>
<polygon points="552.40,500.50 553.19,502.61 555.44,502.71 553.68,504.12 554.28,506.29 552.40,505.04 550.52,506.29 551.12,504.12 549.36,502.71 551.61,502.61" fill="#0a7a0a"/>
<polygon points="554.00,503.30 554.79,505.41 557.04,505.51 555.28,506.92 555.88,509.09 554.00,507.84 552.12,509.09 552.72,506.92 550.96,505.51 553.21,505.41" fill="#0a7a0a"/>
<polygon points="548.80,506.00 549.59,508.11 551.84,508.21 550.08,509.62 550.68,511.79 548.80,510.54 546.92,511.79 547.52,509.62 545.76,508.21 548.01,508.11" fill="#0a7a0a"/>
<polygon points="550.50,508.90 551.29,511.01 553.54,511.11 551.78,512.52 552.38,514.69 550.50,513.44 548.62,514.69 549.22,512.52 547.46,511.11 549.71,511.01" fill="#0a7a0a"/>
<polygon points="559.50,508.90 560.29,511.01 562.54,511.11 560.78,512.52 561.38,514.69 559.50,513.44 557.62,514.69 558.22,512.52 556.46,511.11 558.71,511.01" fill="#0a7a0a"/>
<polygon points="557.50,515.50 558.29,517.61 560.54,517.71 558.78,519.12 559.38,521.29 557.50,520.04 555.62,521.29 556.22,519.12 554.46,517.71 556.71,517.61" fill="#0a7a0a"/>
<polygon points="585.20,479.90 585.99,482.01 588.24,482.11 586.48,483.52 587.08,485.69 585.20,484.44 583.32,485.69 583.92,483.52 582.16,482.11 584.41,482.01" fill="#0a7a0a"/>
<polygon points="588.90,475.10 589.69,477.21 591.94,477.31 590.18,478.72 590.78,480.89 588.90,479.64 587.02,480.89 587.62,478.72 585.86,477.31 588.11,477.21" fill="#0a7a0a"/>
<polygon points="596.00,478.00 596.79,480.11 599.04,480.21 597.28,481.62 597.88,483.79 596.00,482.54 594.12,483.79 594.72,481.62 592.96,480.21 595.21,480.11" fill="#0a7a0a"/>
<polygon points="599.40,493.70 600.19,495.81 602.44,495.91 600.68,497.32 601.28,499.49 599.40,498.24 597.52,499.49 598.12,497.32 596.36,495.91 598.61,495.81" fill="#0a7a0a"/>
<polygon points="604.60,492.10 605.39,494.21 607.64,494.31 605.88,495.72 606.48,497.89 604.60,496.64 602.72,497.89 603.32,495.72 601.56,494.31 603.81,494.21" fill="#0a7a0a"/>
<polygon points="620.10,504.80 620.89,506.91 623.14,507.01 621.38,508.42 621.98,510.59 620.10,509.34 618.22,510.59 618.82,508.42 617.06,507.01 619.31,506.91" fill="#0a7a0a"/>
<polygon points="627.20,521.40 627.99,523.51 630.24,523.61 628.48,525.02 629.08,527.19 627.20,525.94 625.32,527.19 625.92,525.02 624.16,523.61 626.41,523.51" fill="#0a7a0a"/>
<polygon points="681.20,496.27 688.40,496.27 684.80,489.93" fill="#ff8000"/>
<polygon points="682.30,499.47 689.50,499.47 685.90,493.13" fill="#ff8000"/>
<polygon points="679.60,502.57 686.80,502.57 683.20,496.23" fill="#ff8000"/>
<polygon points="687.80,497.07 695.00,497.07 691.40,490.73" fill="#ff8000"/>
<polygon points="690.20,495.17 697.40,495.17 693.80,488.83" fill="#ff8000"/>
<polygon points="692.60,498.67 699.80,498.67 696.20,492.33" fill="#ff8000"/>
<polygon points="694.50,502.57 701.70,502.57 698.10,496.23" fill="#ff8000"/>
<polygon points="696.50,503.37 703.70,503.37 700.10,497.03" fill="#ff8000"/>
<polygon points="698.60,493.57 705.80,493.57 702.20,487.23" fill="#ff8000"/>
<polygon points="700.20,481.97 707.40,481.97 703.80,475.63" fill="#ff8000"/>
<polygon points="702.40,488.37 709.60,488.37 706.00,482.03" fill="#ff8000"/>
<polygon points="704.10,497.87 711.30,497.87 707.70,491.53" fill="#ff8000"/>
<polygon points="705.60,494.17 712.80,494.17 709.20,487.83" fill="#ff8000"/>
<polygon points="707.30,490.27 714.50,490.27 710.90,483.93" fill="#ff8000"/>
<polygon points="709.20,484.67 716.40,484.67 712.80,478.33" fill="#ff8000"/>
<line x1="609.5" y1="315.4" x2="633.8" y2="315.4" stroke="#000" stroke-width="1.2"/>
<text x="637.0" y="319" font-size="10.5" fill="#000" text-anchor="start" font-weight="normal" textLength="129.8" lengthAdjust="spacingAndGlyphs" >3V A - 90 Gram-Schmidt</text>
<polygon points="621.80,332.90 622.71,335.34 625.32,335.46 623.28,337.08 623.97,339.59 621.80,338.15 619.63,339.59 620.32,337.08 618.28,335.46 620.89,335.34" fill="#0a7a0a"/>
<polygon points="618.10,357.56 625.50,357.56 621.80,351.04" fill="#ff8000"/>
<text y="339.7" font-size="10.5" fill="#000"><tspan x="637.2" textLength="20.0" lengthAdjust="spacingAndGlyphs">998</tspan><tspan x="660.2" textLength="14.6" lengthAdjust="spacingAndGlyphs">cm</tspan><tspan x="676.2" dy="-5.1" font-size="10.5" textLength="9.0" lengthAdjust="spacingAndGlyphs">-1</tspan><tspan x="686.4" dy="5.1">/</tspan><tspan x="693.8" textLength="19.6" lengthAdjust="spacingAndGlyphs">972</tspan><tspan x="717.2" textLength="14.6" lengthAdjust="spacingAndGlyphs">cm</tspan><tspan x="733.2" dy="-5.1" font-size="10.5" textLength="9.0" lengthAdjust="spacingAndGlyphs">-1</tspan></text>
<text y="358.1" font-size="10.5" fill="#000"><tspan x="637.6" textLength="20.0" lengthAdjust="spacingAndGlyphs">730</tspan><tspan x="660.6" textLength="14.6" lengthAdjust="spacingAndGlyphs">cm</tspan><tspan x="676.6" dy="-5.1" font-size="10.5" textLength="9.0" lengthAdjust="spacingAndGlyphs">-1</tspan><tspan x="686.8" dy="5.1">/</tspan><tspan x="694.2" textLength="19.6" lengthAdjust="spacingAndGlyphs">720</tspan><tspan x="717.6" textLength="14.6" lengthAdjust="spacingAndGlyphs">cm</tspan><tspan x="733.6" dy="-5.1" font-size="10.5" textLength="9.0" lengthAdjust="spacingAndGlyphs">-1</tspan></text>
<g transform="translate(802.5,334.5) rotate(90)" fill="#ff8000" stroke="#ff8000" stroke-width="0.28">
<text x="0" y="0" font-size="14.5" textLength="58.6" lengthAdjust="spacingAndGlyphs">A (730 cm</text>
<text x="59.6" y="-10.5" font-size="13" textLength="9.2" lengthAdjust="spacingAndGlyphs">-1</text>
<text x="70.5" y="0" font-size="14.5" textLength="71.7" lengthAdjust="spacingAndGlyphs">)/ A (720 cm</text>
<text x="143.2" y="-10.5" font-size="13" textLength="9.8" lengthAdjust="spacingAndGlyphs">-1</text>
<text x="153.6" y="0" font-size="14.5" textLength="5.6" lengthAdjust="spacingAndGlyphs">)</text>
</g>
<g transform="translate(453.5,500.6) rotate(-90)" fill="#158c15" stroke="#158c15" stroke-width="0.28">
<text x="0" y="0" font-size="14.5" textLength="66.8" lengthAdjust="spacingAndGlyphs">A (998 cm</text>
<text x="68.4" y="-10.3" font-size="13" textLength="10.8" lengthAdjust="spacingAndGlyphs">-1</text>
<text x="82.0" y="0" font-size="14.5" textLength="83.6" lengthAdjust="spacingAndGlyphs">)/ A (972 cm</text>
<text x="167.2" y="-10.3" font-size="13" textLength="11.0" lengthAdjust="spacingAndGlyphs">-1</text>
<text x="179.3" y="0" font-size="14.5" textLength="6.0" lengthAdjust="spacingAndGlyphs">)</text>
</g>
</svg>
</body></html>
